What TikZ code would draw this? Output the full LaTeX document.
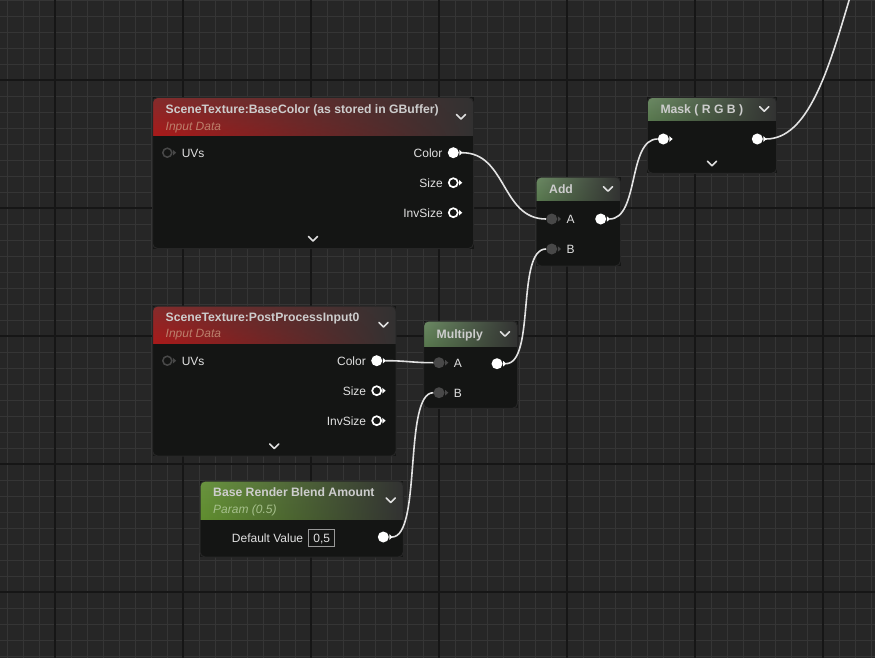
\documentclass[tikz,border=0pt]{standalone}
\usepackage{fontspec}
\setmainfont{Liberation Sans}
\usetikzlibrary{arrows.meta,positioning,calc,fadings}
\definecolor{canvas}{RGB}{38,38,38}
\definecolor{gridfine}{RGB}{53,53,53}
\definecolor{gridbold}{RGB}{22,22,22}
\definecolor{nodebody}{RGB}{20,21,20}
\definecolor{wire}{RGB}{226,226,226}
\definecolor{pindim}{RGB}{72,72,72}
\definecolor{titletxt}{RGB}{205,205,205}
\definecolor{redA}{RGB}{132,44,44}
\definecolor{redB}{RGB}{84,14,14}
\definecolor{redC}{RGB}{170,26,26}
\definecolor{grnA}{RGB}{108,138,100}
\definecolor{grnB}{RGB}{66,92,60}
\definecolor{grnC}{RGB}{88,120,78}
\definecolor{oliA}{RGB}{106,148,64}
\definecolor{oliB}{RGB}{62,106,30}
\definecolor{oliC}{RGB}{96,142,46}
\definecolor{hdgrey}{RGB}{50,50,50}
\definecolor{subred}{RGB}{188,128,108}
\definecolor{subgrn}{RGB}{166,192,140}

\begin{document}
\begin{tikzpicture}[x=1pt,y=-1pt,
  body/.style={fill=nodebody,fill opacity=0.92,inner sep=0pt,outer sep=0pt},
  ttl/.style={anchor=west,inner sep=0pt,text=titletxt,text height=8.7pt,text depth=0pt,font=\fontsize{12.2}{14}\selectfont\bfseries},
  sub/.style={anchor=west,inner sep=0pt,text height=8.7pt,text depth=0pt,font=\fontsize{12}{14}\selectfont\itshape},
  lbl/.style={inner sep=0pt,text=white!88!black,text height=8.7pt,text depth=0pt,font=\fontsize{12}{14}\selectfont},
  socket/.style={circle,inner sep=0pt,minimum size=11pt},
  off/.style={draw=pindim,line width=1.5pt,minimum size=9pt},
  ring/.style={draw=white,line width=1.7pt,minimum size=9pt},
  full/.style={fill=white},
  dim/.style={fill=pindim},
  wirel/.style={draw=wire,line width=1.6pt},
  chev/.style={draw=white!88!black,line width=1.6pt,line cap=round,line join=round}]

  \useasboundingbox (0,0) rectangle (875,658);
  \clip (0,0) rectangle (875,658);

  % graph paper
  \fill[canvas] (0,0) rectangle (875,658);
  \foreach \gx in {7.5,23.5,...,871.5}
    \draw[gridfine,line width=1.5pt] (\gx,0) -- (\gx,658);
  \foreach \gy in {0.5,16.5,...,656.5}
    \draw[gridfine,line width=1.5pt] (0,\gy) -- (875,\gy);
  \foreach \gx in {55,183,...,823}
    \draw[gridbold,line width=2.4pt] (\gx,0) -- (\gx,658);
  \foreach \gy in {80,208,...,592}
    \draw[gridbold,line width=2.4pt] (0,\gy) -- (875,\gy);

  % material nodes
  \foreach \n/\x/\y/\w/\h/\hh/\ca/\cb/\cc/\ty/\t/\s/\sc in {
    bc/152.5/97.5/321/151/38.5/redA/redB/redC/11.5/SceneTexture:BaseColor (as stored in GBuffer)/Input Data/subred,
    pp/152.5/306/243.5/150/37.5/redA/redB/redC/10.7/SceneTexture:PostProcessInput0/Input Data/subred,
    add/536/177/84.5/89/23.7/grnA/grnB/grnC/12.3/Add//subgrn,
    mul/423.5/321/94/87.3/25.7/grnA/grnB/grnC/13.3/Multiply//subgrn,
    mask/647.3/97.3/129.4/76/23.4/grnA/grnB/grnC/11.7/Mask ( R G B )//subgrn,
    br/200/481/203.3/76/38.5/oliA/oliB/oliC/11.3/Base Render Blend Amount/Param (0.5)/subgrn}
  {
    \node[body,minimum width=\w,minimum height=\h,anchor=north west] (\n) at (\x,\y) {};
    \begin{scope}
      \clip[rounded corners=5pt] (\n.north west) rectangle (\n.south east);
      \fill[nodebody,opacity=0.92] (\n.north west) rectangle (\n.south east);
      \shade[top color=\ca,middle color=\cb,bottom color=\cc] (\n.north west) rectangle ($(\n.north east)+(0,\hh)$);
      \fill[hdgrey,path fading=west] (\n.north west) rectangle ($(\n.north east)+(0,\hh)$);
    \end{scope}
    \draw[black!85,line width=1pt,rounded corners=5pt] (\n.north west) rectangle (\n.south east);
    \node[ttl] (\n-title) at ($(\n.north west)+(13,\ty)$) {\t};
    \node[sub,text=\sc] (\n-sub) at ($(\n.north west)+(13,\ty+16.7)$) {\s};
    \draw[chev] ($(\n.north east)+(-17,\hh/2-2.2)$) -- ++(4.5,4.5) -- ++(4.5,-4.5);
  }
  \foreach \n in {bc,pp,mask}
    \draw[chev] ($(\n.south)+(-4.5,-12)$) -- ++(4.5,4.5) -- ++(4.5,-4.5);

  % sockets
  \foreach \p/\x/\y/\k/\tc in {
    bc-uv/167.3/152.7/off/pindim, bc-color/453.3/152.7/full/white,
    bc-size/453.3/182.7/ring/white, bc-inv/453.3/212.7/ring/white,
    pp-uv/167.3/360.7/off/pindim, pp-color/376.7/360.7/full/white,
    pp-size/376.7/390.7/ring/white, pp-inv/376.7/420.7/ring/white,
    add-a/551.7/219/dim/pindim, add-b/551.7/249/dim/pindim, add-out/600.7/219/full/white,
    mul-a/439/362.7/dim/pindim, mul-b/439/392.7/dim/pindim, mul-out/497/363.7/full/white,
    mask-in/663.3/139/full/white, mask-out/757.3/139/full/white,
    br-out/383.3/537/full/white}
  {
    \node[socket,\k] (\p) at (\x,\y) {};
    \fill[\tc] ([xshift=0.4pt]\p.east) ++(0,-2.8) -- ++(3.2,2.8) -- ++(-3.2,2.8) -- cycle;
  }

  % captions
  \foreach \p/\t in {bc-uv/UVs, pp-uv/UVs, add-a/A, add-b/B, mul-a/A, mul-b/B}
    \node[lbl,right=9pt of \p] (\p-cap) {\t};
  \foreach \p/\t in {bc-color/Color, bc-size/Size, bc-inv/InvSize, pp-color/Color, pp-size/Size, pp-inv/InvSize}
    \node[lbl,left=5pt of \p] (\p-cap) {\t};
  \node[lbl,anchor=east] (br-cap) at (303.3,538.3) {Default Value};
  \node[lbl,draw=white!60!black,line width=0.8pt,fill=nodebody,minimum width=26pt,minimum height=17pt,text depth=0pt,
    right=5pt of br-cap] (br-val) {0,5};

  % wires
  \coordinate (mask-dst) at (932,-138);
  \draw[wirel] ([xshift=3pt]bc-color.east) .. controls +(45,0) and +(-45,0) .. (add-a.west);
  \draw[wirel] ([xshift=3pt]pp-color.east) .. controls +(22,0) and +(-22,0) .. (mul-a.west);
  \draw[wirel] ([xshift=3pt]br-out.east) .. controls +(30,0) and +(-30,0) .. (mul-b.west);
  \draw[wirel] ([xshift=3pt]mul-out.east) .. controls +(30,0) and +(-30,0) .. (add-b.west);
  \draw[wirel] ([xshift=3pt]add-out.east) .. controls +(30,0) and +(-30,0) .. (mask-in.west);
  \draw[wirel] ([xshift=3pt]mask-out.east) .. controls +(84,0) and +(-84,0) .. (mask-dst);
\end{tikzpicture}
\end{document}
